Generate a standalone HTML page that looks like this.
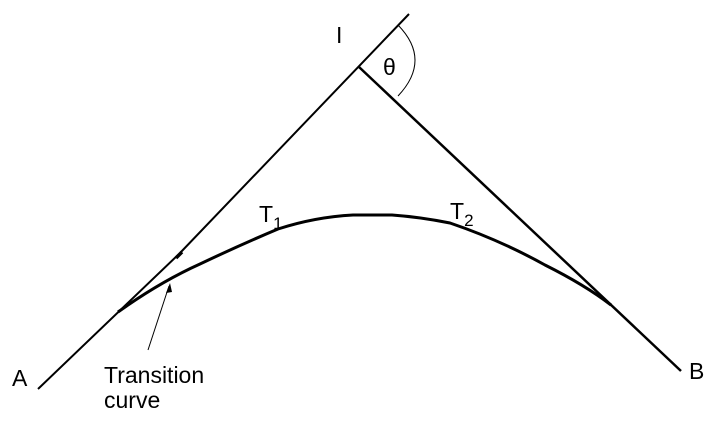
<!DOCTYPE html>
<html><head><style>body{margin:0;background:#fff}svg{display:block}text{font-family:"Liberation Sans",sans-serif;fill:#000}</style></head><body>
<svg width="716" height="431" viewBox="0 0 716 431">
<polyline points="38,389 180,253 409,14" fill="none" stroke="#000" stroke-width="2"/>
<line x1="359" y1="67" x2="681" y2="371" stroke="#000" stroke-width="2.5"/>
<path d="M118,312 Q160,282 200,264 Q240,245 278,229 Q315,217 353,215 L392,215 Q420,217 450,223 Q500,240 545,265 Q585,285 611,305" fill="none" stroke="#000" stroke-width="3"/>
<line x1="176" y1="258" x2="182" y2="252" stroke="#000" stroke-width="3.5"/>
<path d="M398,25 Q432,60 398,96" fill="none" stroke="#000" stroke-width="1"/>
<line x1="148" y1="350" x2="169" y2="286" stroke="#000" stroke-width="1"/>
<polygon points="170,283 166,293 172,292" fill="#000"/>
<text x="12" y="386" font-size="23">A</text>
<text x="689" y="379" font-size="23">B</text>
<text x="336" y="43" font-size="23">I</text>
<text x="383" y="75" font-size="23" font-family="Liberation Serif">θ</text>
<text x="259" y="222" font-size="23">T<tspan font-size="17" dy="7">1</tspan></text>
<text x="450" y="219" font-size="23">T<tspan font-size="17" dy="7">2</tspan></text>
<text x="104" y="383" font-size="23">Transition</text>
<text x="104" y="408" font-size="23">curve</text>
</svg>
</body></html>
